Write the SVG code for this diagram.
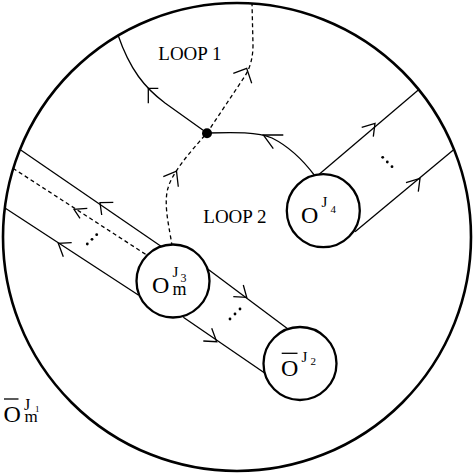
<svg xmlns="http://www.w3.org/2000/svg" width="474" height="474" viewBox="0 0 474 474">
<style>
.bd{fill:none;stroke:#000;stroke-width:2.6}
.nd{fill:#fff;stroke:#000;stroke-width:2.3}
.ln{fill:none;stroke:#000;stroke-width:1.3}
.ds{fill:none;stroke:#000;stroke-width:1.3;stroke-dasharray:4 3}
.ah{fill:none;stroke:#000;stroke-width:1.3}
.dt{fill:#000}
text{font-family:"Liberation Serif","Times New Roman",serif;fill:#000}
.big{font-size:24px}
.sup{font-size:15px}
.sub{font-size:11px}
.lbl{font-size:19px}
.ov{stroke:#000;stroke-width:1.3}
</style>
<rect width="474" height="474" fill="#fff"/>
<g id="boundary">
<circle class="bd" cx="237" cy="237" r="234"/>
</g>
<g id="connectors">
<path class="ln" d="M118,35 C130,70 145,88 165,103 L207,133"/>
<path class="ln" d="M207,133 C235,132 258,132 272,138 C288,146 303,160 315,176"/>
<path class="ds" d="M172,246 C170,230 163,205 168,188 C172,173 190,152 207,133 L245,76 Q253,63 253,45 L252,3"/>
<line class="ln" x1="20" y1="149.5" x2="161.7" y2="246.7"/>
<line class="ds" x1="13" y1="168.3" x2="146.7" y2="255"/>
<line class="ln" x1="5" y1="208" x2="138.3" y2="295"/>
<line class="ln" x1="206.7" y1="268.3" x2="288.3" y2="329.3"/>
<line class="ln" x1="183.3" y1="317.3" x2="265" y2="373.3"/>
<line class="ln" x1="318.3" y1="175" x2="418.3" y2="90"/>
<line class="ln" x1="355" y1="231.7" x2="453.3" y2="150"/>
<polyline class="ah" points="158.3,88.3 148.3,88.3 148.3,103.3"/>
<polyline class="ah" points="283.3,135 263.3,135 273.3,148.6"/>
<polyline class="ah" points="163.3,176.7 176.5,171.2 178.3,186.7"/>
<polyline class="ah" points="233.3,73.3 246.7,68.3 251.7,83.3"/>
<polyline class="ah" points="113.3,202.3 100,202.7 101.7,215"/>
<polyline class="ah" points="87.3,208.3 74,209.3 80,218.3"/>
<polyline class="ah" points="71.7,242.7 58.3,243.3 63.3,256.7"/>
<polyline class="ah" points="233.3,296.7 246.7,297.3 243.3,285"/>
<polyline class="ah" points="203.3,341 216.7,341.7 211.7,328.3"/>
<polyline class="ah" points="361.7,127.3 375,123.3 373.3,136.7"/>
<polyline class="ah" points="406,182.7 420,178.3 418.3,191.7"/>
<circle class="dt" cx="207" cy="133.3" r="5"/>
<circle class="dt" cx="87.3" cy="244" r="1.4"/>
<circle class="dt" cx="92" cy="239.3" r="1.4"/>
<circle class="dt" cx="96.7" cy="234.7" r="1.4"/>
<circle class="dt" cx="230" cy="319" r="1.4"/>
<circle class="dt" cx="235" cy="314" r="1.4"/>
<circle class="dt" cx="240" cy="309" r="1.4"/>
<circle class="dt" cx="382.7" cy="157.3" r="1.4"/>
<circle class="dt" cx="387.3" cy="162" r="1.4"/>
<circle class="dt" cx="392" cy="166.7" r="1.4"/>
</g>
<g id="loop1-label"><text class="lbl" x="158.3" y="60">LOOP 1</text></g>
<g id="loop2-label"><text class="lbl" x="203.3" y="223.3">LOOP 2</text></g>
<g id="node-J4">
<circle class="nd" cx="323.3" cy="210.7" r="36.5"/>
<text class="big"><tspan x="301" y="223">O</tspan><tspan class="sup" x="321.5" y="207.3">J</tspan><tspan class="sub" x="330.5" y="212.7">4</tspan></text>
</g>
<g id="node-J3">
<circle class="nd" cx="173" cy="281" r="36.5"/>
<text class="big"><tspan x="152" y="292.7">O</tspan><tspan class="sup" x="172.5" y="277.3">J</tspan><tspan style="font-size:12px" x="180.5" y="281.7">3</tspan><tspan style="font-size:18px" x="172.5" y="295">m</tspan></text>
</g>
<g id="node-J2">
<circle class="nd" cx="300" cy="363.5" r="36.5"/>
<line class="ov" x1="281.7" y1="353.3" x2="297.5" y2="353.3"/>
<text class="big"><tspan x="281" y="376">O</tspan><tspan class="sup" x="301.5" y="361.7">J</tspan><tspan class="sub" x="310.5" y="365">2</tspan></text>
</g>
<g id="node-J1">
<line class="ov" x1="4" y1="399" x2="18.5" y2="399"/>
<text class="big"><tspan x="3.5" y="422.3">O</tspan><tspan style="font-size:16px" x="24" y="410">J</tspan><tspan style="font-size:9px" x="35" y="411.7">1</tspan><tspan style="font-size:17px" x="24.5" y="422.3">m</tspan></text>
</g>
</svg>
